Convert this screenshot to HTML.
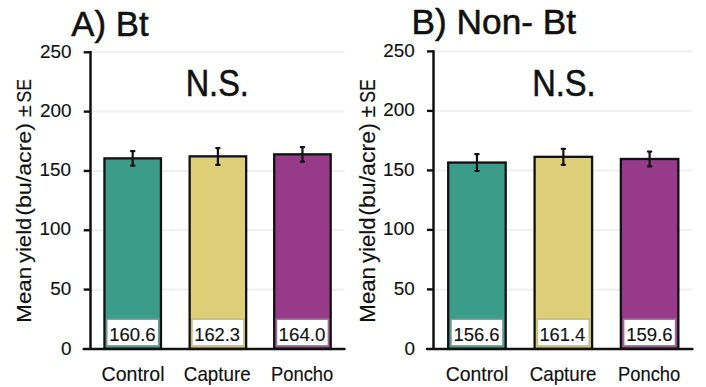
<!DOCTYPE html>
<html><head><meta charset="utf-8"><style>
html,body{margin:0;padding:0;background:#fff;width:706px;height:387px;overflow:hidden}
svg{display:block}
</style></head><body>
<svg width="706" height="387" viewBox="0 0 706 387">
<rect width="706" height="387" fill="#fff"/>
<line x1="91.7" y1="289.58" x2="344.5" y2="289.58" stroke="#f0f0f0" stroke-width="2"/>
<line x1="91.7" y1="230.26" x2="344.5" y2="230.26" stroke="#f0f0f0" stroke-width="2"/>
<line x1="91.7" y1="170.94" x2="344.5" y2="170.94" stroke="#f0f0f0" stroke-width="2"/>
<line x1="91.7" y1="111.62" x2="344.5" y2="111.62" stroke="#f0f0f0" stroke-width="2"/>
<line x1="91.7" y1="52.30" x2="344.5" y2="52.30" stroke="#f0f0f0" stroke-width="2"/>
<rect x="104.45" y="158.36" width="56.5" height="190.54" fill="#3b9c89" stroke="#111" stroke-width="2.3"/>
<rect x="106.70" y="319.10" width="52.00" height="26.80" fill="#fff" stroke="#6e9c93" stroke-width="1.6"/>
<line x1="132.7" y1="151.20" x2="132.7" y2="165.70" stroke="#111" stroke-width="2.2"/>
<line x1="131.05" y1="151.20" x2="134.35" y2="151.20" stroke="#111" stroke-width="2.2" stroke-linecap="round"/>
<line x1="131.05" y1="165.70" x2="134.35" y2="165.70" stroke="#111" stroke-width="2.2" stroke-linecap="round"/>
<rect x="189.65" y="156.35" width="56.5" height="192.55" fill="#dccf78" stroke="#111" stroke-width="2.3"/>
<rect x="191.90" y="319.10" width="52.00" height="26.80" fill="#fff" stroke="#c4bb85" stroke-width="1.6"/>
<line x1="217.9" y1="148.10" x2="217.9" y2="164.90" stroke="#111" stroke-width="2.2"/>
<line x1="216.25" y1="148.10" x2="219.55" y2="148.10" stroke="#111" stroke-width="2.2" stroke-linecap="round"/>
<line x1="216.25" y1="164.90" x2="219.55" y2="164.90" stroke="#111" stroke-width="2.2" stroke-linecap="round"/>
<rect x="274.20" y="154.33" width="56.5" height="194.57" fill="#973a89" stroke="#111" stroke-width="2.3"/>
<rect x="276.45" y="319.10" width="52.00" height="26.80" fill="#fff" stroke="#957090" stroke-width="1.6"/>
<line x1="302.45" y1="147.20" x2="302.45" y2="161.60" stroke="#111" stroke-width="2.2"/>
<line x1="300.80" y1="147.20" x2="304.10" y2="147.20" stroke="#111" stroke-width="2.2" stroke-linecap="round"/>
<line x1="300.80" y1="161.60" x2="304.10" y2="161.60" stroke="#111" stroke-width="2.2" stroke-linecap="round"/>
<line x1="90.5" y1="51.10" x2="90.5" y2="348.90" stroke="#111" stroke-width="2.5"/>
<line x1="83.7" y1="348.9" x2="344.5" y2="348.9" stroke="#111" stroke-width="2.5" stroke-linecap="round"/>
<line x1="83.7" y1="289.58" x2="90.5" y2="289.58" stroke="#111" stroke-width="2.4"/>
<line x1="83.7" y1="230.26" x2="90.5" y2="230.26" stroke="#111" stroke-width="2.4"/>
<line x1="83.7" y1="170.94" x2="90.5" y2="170.94" stroke="#111" stroke-width="2.4"/>
<line x1="83.7" y1="111.62" x2="90.5" y2="111.62" stroke="#111" stroke-width="2.4"/>
<line x1="83.7" y1="52.30" x2="90.5" y2="52.30" stroke="#111" stroke-width="2.4"/>
<line x1="434.7" y1="289.40" x2="692.4" y2="289.40" stroke="#f0f0f0" stroke-width="2"/>
<line x1="434.7" y1="229.90" x2="692.4" y2="229.90" stroke="#f0f0f0" stroke-width="2"/>
<line x1="434.7" y1="170.40" x2="692.4" y2="170.40" stroke="#f0f0f0" stroke-width="2"/>
<line x1="434.7" y1="110.90" x2="692.4" y2="110.90" stroke="#f0f0f0" stroke-width="2"/>
<line x1="434.7" y1="51.40" x2="692.4" y2="51.40" stroke="#f0f0f0" stroke-width="2"/>
<rect x="448.20" y="162.55" width="57.5" height="186.35" fill="#3b9c89" stroke="#111" stroke-width="2.3"/>
<rect x="450.95" y="319.10" width="52.00" height="26.80" fill="#fff" stroke="#6e9c93" stroke-width="1.6"/>
<line x1="476.95" y1="154.20" x2="476.95" y2="171.00" stroke="#111" stroke-width="2.2"/>
<line x1="475.30" y1="154.20" x2="478.60" y2="154.20" stroke="#111" stroke-width="2.2" stroke-linecap="round"/>
<line x1="475.30" y1="171.00" x2="478.60" y2="171.00" stroke="#111" stroke-width="2.2" stroke-linecap="round"/>
<rect x="534.60" y="156.83" width="57.5" height="192.07" fill="#dccf78" stroke="#111" stroke-width="2.3"/>
<rect x="537.35" y="319.10" width="52.00" height="26.80" fill="#fff" stroke="#c4bb85" stroke-width="1.6"/>
<line x1="563.35" y1="148.80" x2="563.35" y2="164.80" stroke="#111" stroke-width="2.2"/>
<line x1="561.70" y1="148.80" x2="565.00" y2="148.80" stroke="#111" stroke-width="2.2" stroke-linecap="round"/>
<line x1="561.70" y1="164.80" x2="565.00" y2="164.80" stroke="#111" stroke-width="2.2" stroke-linecap="round"/>
<rect x="620.85" y="158.98" width="57.5" height="189.92" fill="#973a89" stroke="#111" stroke-width="2.3"/>
<rect x="623.60" y="319.10" width="52.00" height="26.80" fill="#fff" stroke="#957090" stroke-width="1.6"/>
<line x1="649.6" y1="151.60" x2="649.6" y2="166.40" stroke="#111" stroke-width="2.2"/>
<line x1="647.95" y1="151.60" x2="651.25" y2="151.60" stroke="#111" stroke-width="2.2" stroke-linecap="round"/>
<line x1="647.95" y1="166.40" x2="651.25" y2="166.40" stroke="#111" stroke-width="2.2" stroke-linecap="round"/>
<line x1="433.5" y1="50.20" x2="433.5" y2="348.90" stroke="#111" stroke-width="2.5"/>
<line x1="427.0" y1="348.9" x2="692.4" y2="348.9" stroke="#111" stroke-width="2.5" stroke-linecap="round"/>
<line x1="427.0" y1="289.40" x2="433.5" y2="289.40" stroke="#111" stroke-width="2.4"/>
<line x1="427.0" y1="229.90" x2="433.5" y2="229.90" stroke="#111" stroke-width="2.4"/>
<line x1="427.0" y1="170.40" x2="433.5" y2="170.40" stroke="#111" stroke-width="2.4"/>
<line x1="427.0" y1="110.90" x2="433.5" y2="110.90" stroke="#111" stroke-width="2.4"/>
<line x1="427.0" y1="51.40" x2="433.5" y2="51.40" stroke="#111" stroke-width="2.4"/>
<text x="71.37" y="36.10" text-anchor="start" font-family="&quot;Liberation Sans&quot;, sans-serif" font-size="35.94" fill="#111" stroke="#111" stroke-width="0.55" textLength="77.30" lengthAdjust="spacingAndGlyphs">A) Bt</text>
<text x="411.61" y="34.40" text-anchor="start" font-family="&quot;Liberation Sans&quot;, sans-serif" font-size="35.68" fill="#111" stroke="#111" stroke-width="0.55" textLength="164.42" lengthAdjust="spacingAndGlyphs">B) Non- Bt</text>
<text x="185.71" y="96.00" text-anchor="start" font-family="&quot;Liberation Sans&quot;, sans-serif" font-size="37.41" fill="#111" stroke="#111" stroke-width="0.55" textLength="63.07" lengthAdjust="spacingAndGlyphs">N.S.</text>
<text x="532.16" y="96.00" text-anchor="start" font-family="&quot;Liberation Sans&quot;, sans-serif" font-size="37.41" fill="#111" stroke="#111" stroke-width="0.55" textLength="63.53" lengthAdjust="spacingAndGlyphs">N.S.</text>
<text x="71.03" y="235.34" text-anchor="end" font-family="&quot;Liberation Sans&quot;, sans-serif" font-size="18.36" fill="#111" stroke="#111" stroke-width="0.15" textLength="31.48" lengthAdjust="spacingAndGlyphs">100</text>
<text x="71.40" y="354.50" text-anchor="end" font-family="&quot;Liberation Sans&quot;, sans-serif" font-size="18.36" fill="#111" stroke="#111" stroke-width="0.15" textLength="10.49" lengthAdjust="spacingAndGlyphs">0</text>
<text x="71.26" y="295.14" text-anchor="end" font-family="&quot;Liberation Sans&quot;, sans-serif" font-size="18.36" fill="#111" stroke="#111" stroke-width="0.15" textLength="20.99" lengthAdjust="spacingAndGlyphs">50</text>
<text x="71.03" y="176.42" text-anchor="end" font-family="&quot;Liberation Sans&quot;, sans-serif" font-size="18.36" fill="#111" stroke="#111" stroke-width="0.15" textLength="31.48" lengthAdjust="spacingAndGlyphs">150</text>
<text x="71.53" y="117.06" text-anchor="end" font-family="&quot;Liberation Sans&quot;, sans-serif" font-size="18.36" fill="#111" stroke="#111" stroke-width="0.15" textLength="31.48" lengthAdjust="spacingAndGlyphs">200</text>
<text x="71.53" y="57.70" text-anchor="end" font-family="&quot;Liberation Sans&quot;, sans-serif" font-size="18.36" fill="#111" stroke="#111" stroke-width="0.15" textLength="31.48" lengthAdjust="spacingAndGlyphs">250</text>
<text x="414.45" y="235.10" text-anchor="end" font-family="&quot;Liberation Sans&quot;, sans-serif" font-size="18.36" fill="#111" stroke="#111" stroke-width="0.15" textLength="31.43" lengthAdjust="spacingAndGlyphs">100</text>
<text x="414.88" y="354.50" text-anchor="end" font-family="&quot;Liberation Sans&quot;, sans-serif" font-size="18.36" fill="#111" stroke="#111" stroke-width="0.15" textLength="10.48" lengthAdjust="spacingAndGlyphs">0</text>
<text x="414.67" y="294.52" text-anchor="end" font-family="&quot;Liberation Sans&quot;, sans-serif" font-size="18.36" fill="#111" stroke="#111" stroke-width="0.15" textLength="20.95" lengthAdjust="spacingAndGlyphs">50</text>
<text x="414.45" y="175.56" text-anchor="end" font-family="&quot;Liberation Sans&quot;, sans-serif" font-size="18.36" fill="#111" stroke="#111" stroke-width="0.15" textLength="31.43" lengthAdjust="spacingAndGlyphs">150</text>
<text x="414.70" y="115.58" text-anchor="end" font-family="&quot;Liberation Sans&quot;, sans-serif" font-size="18.36" fill="#111" stroke="#111" stroke-width="0.15" textLength="31.43" lengthAdjust="spacingAndGlyphs">200</text>
<text x="414.70" y="56.60" text-anchor="end" font-family="&quot;Liberation Sans&quot;, sans-serif" font-size="18.36" fill="#111" stroke="#111" stroke-width="0.15" textLength="31.43" lengthAdjust="spacingAndGlyphs">250</text>
<text x="31.38" y="322.64" transform="rotate(-90 31.38 322.64)" text-anchor="start" font-family="&quot;Liberation Sans&quot;, sans-serif" font-size="20.50" fill="#111" stroke="#111" stroke-width="0.15" textLength="55.65" lengthAdjust="spacingAndGlyphs">Mean</text>
<text x="31.38" y="263.06" transform="rotate(-90 31.38 263.06)" text-anchor="start" font-family="&quot;Liberation Sans&quot;, sans-serif" font-size="20.50" fill="#111" stroke="#111" stroke-width="0.15" textLength="45.39" lengthAdjust="spacingAndGlyphs">yield</text>
<text x="31.38" y="215.81" transform="rotate(-90 31.38 215.81)" text-anchor="start" font-family="&quot;Liberation Sans&quot;, sans-serif" font-size="20.50" fill="#111" stroke="#111" stroke-width="0.15" textLength="92.78" lengthAdjust="spacingAndGlyphs">(bu/acre)</text>
<text x="31.38" y="116.90" transform="rotate(-90 31.38 116.90)" text-anchor="start" font-family="&quot;Liberation Sans&quot;, sans-serif" font-size="20.50" fill="#111" stroke="#111" stroke-width="0.15" textLength="11.96" lengthAdjust="spacingAndGlyphs">±</text>
<text x="31.38" y="102.61" transform="rotate(-90 31.38 102.61)" text-anchor="start" font-family="&quot;Liberation Sans&quot;, sans-serif" font-size="20.50" fill="#111" stroke="#111" stroke-width="0.15" textLength="23.58" lengthAdjust="spacingAndGlyphs">SE</text>
<text x="374.98" y="322.64" transform="rotate(-90 374.98 322.64)" text-anchor="start" font-family="&quot;Liberation Sans&quot;, sans-serif" font-size="22.19" fill="#111" stroke="#111" stroke-width="0.15" textLength="55.65" lengthAdjust="spacingAndGlyphs">Mean</text>
<text x="374.98" y="263.02" transform="rotate(-90 374.98 263.02)" text-anchor="start" font-family="&quot;Liberation Sans&quot;, sans-serif" font-size="22.19" fill="#111" stroke="#111" stroke-width="0.15" textLength="45.48" lengthAdjust="spacingAndGlyphs">yield</text>
<text x="374.98" y="215.82" transform="rotate(-90 374.98 215.82)" text-anchor="start" font-family="&quot;Liberation Sans&quot;, sans-serif" font-size="22.19" fill="#111" stroke="#111" stroke-width="0.15" textLength="92.80" lengthAdjust="spacingAndGlyphs">(bu/acre)</text>
<text x="374.98" y="117.37" transform="rotate(-90 374.98 117.37)" text-anchor="start" font-family="&quot;Liberation Sans&quot;, sans-serif" font-size="22.19" fill="#111" stroke="#111" stroke-width="0.15" textLength="11.71" lengthAdjust="spacingAndGlyphs">±</text>
<text x="374.98" y="102.80" transform="rotate(-90 374.98 102.80)" text-anchor="start" font-family="&quot;Liberation Sans&quot;, sans-serif" font-size="22.19" fill="#111" stroke="#111" stroke-width="0.15" textLength="23.56" lengthAdjust="spacingAndGlyphs">SE</text>
<text x="133.05" y="380.90" text-anchor="middle" font-family="&quot;Liberation Sans&quot;, sans-serif" font-size="20.36" fill="#111" stroke="#111" stroke-width="0.15" textLength="62.97" lengthAdjust="spacingAndGlyphs">Control</text>
<text x="217.21" y="380.90" text-anchor="middle" font-family="&quot;Liberation Sans&quot;, sans-serif" font-size="20.36" fill="#111" stroke="#111" stroke-width="0.15" textLength="66.73" lengthAdjust="spacingAndGlyphs">Capture</text>
<text x="302.14" y="380.90" text-anchor="middle" font-family="&quot;Liberation Sans&quot;, sans-serif" font-size="20.36" fill="#111" stroke="#111" stroke-width="0.15" textLength="62.32" lengthAdjust="spacingAndGlyphs">Poncho</text>
<text x="476.92" y="380.90" text-anchor="middle" font-family="&quot;Liberation Sans&quot;, sans-serif" font-size="20.36" fill="#111" stroke="#111" stroke-width="0.15" textLength="62.59" lengthAdjust="spacingAndGlyphs">Control</text>
<text x="563.05" y="380.90" text-anchor="middle" font-family="&quot;Liberation Sans&quot;, sans-serif" font-size="20.36" fill="#111" stroke="#111" stroke-width="0.15" textLength="66.68" lengthAdjust="spacingAndGlyphs">Capture</text>
<text x="649.14" y="380.90" text-anchor="middle" font-family="&quot;Liberation Sans&quot;, sans-serif" font-size="20.36" fill="#111" stroke="#111" stroke-width="0.15" textLength="62.32" lengthAdjust="spacingAndGlyphs">Poncho</text>
<text x="132.44" y="340.70" text-anchor="middle" font-family="&quot;Liberation Sans&quot;, sans-serif" font-size="18.82" fill="#111" stroke="#111" stroke-width="0.15" textLength="46.34" lengthAdjust="spacingAndGlyphs">160.6</text>
<text x="217.16" y="340.70" text-anchor="middle" font-family="&quot;Liberation Sans&quot;, sans-serif" font-size="18.82" fill="#111" stroke="#111" stroke-width="0.15" textLength="45.79" lengthAdjust="spacingAndGlyphs">162.3</text>
<text x="302.04" y="340.70" text-anchor="middle" font-family="&quot;Liberation Sans&quot;, sans-serif" font-size="18.82" fill="#111" stroke="#111" stroke-width="0.15" textLength="46.87" lengthAdjust="spacingAndGlyphs">164.0</text>
<text x="476.49" y="340.70" text-anchor="middle" font-family="&quot;Liberation Sans&quot;, sans-serif" font-size="18.82" fill="#111" stroke="#111" stroke-width="0.15" textLength="46.18" lengthAdjust="spacingAndGlyphs">156.6</text>
<text x="562.31" y="340.70" text-anchor="middle" font-family="&quot;Liberation Sans&quot;, sans-serif" font-size="18.82" fill="#111" stroke="#111" stroke-width="0.15" textLength="45.81" lengthAdjust="spacingAndGlyphs">161.4</text>
<text x="649.42" y="340.70" text-anchor="middle" font-family="&quot;Liberation Sans&quot;, sans-serif" font-size="18.82" fill="#111" stroke="#111" stroke-width="0.15" textLength="46.39" lengthAdjust="spacingAndGlyphs">159.6</text>
</svg>
</body></html>
